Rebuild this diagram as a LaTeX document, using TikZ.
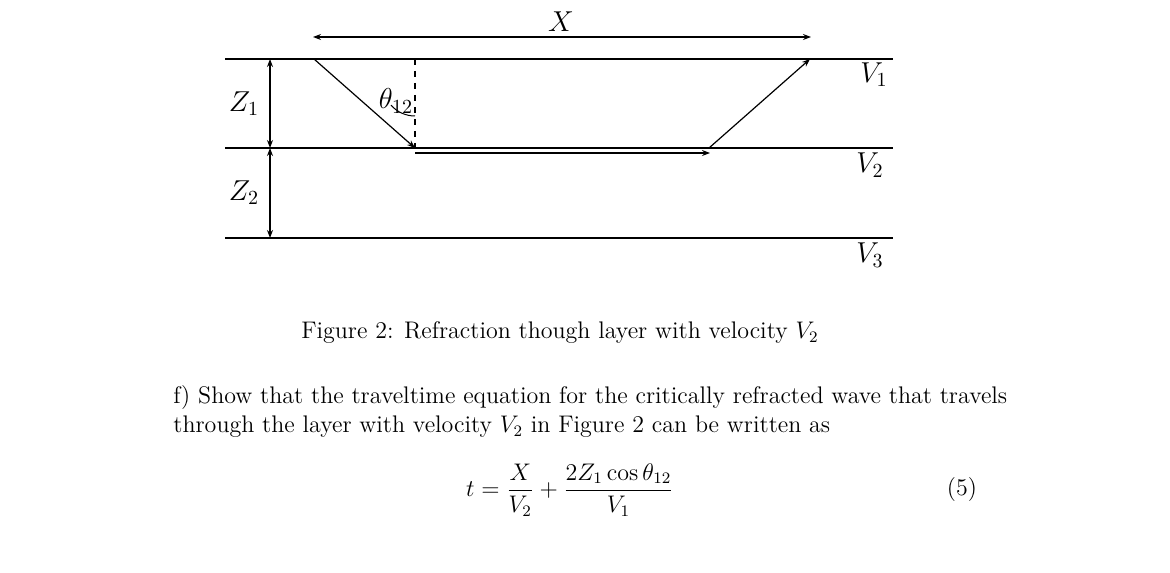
\documentclass[tikz,border=0pt]{standalone}
\usepackage{amsmath}
\usetikzlibrary{arrows.meta}
\begin{document}
\begin{tikzpicture}[x=0.5pt,y=-0.5pt,
  layer/.style={line width=0.8pt},
  ray/.style={line width=0.6pt,-{Stealth[length=4pt,width=3pt]}},
  dim/.style={line width=0.6pt,{Stealth[length=4pt,width=3pt]}-{Stealth[length=4pt,width=3pt]}},
  lbl/.style={inner sep=0pt}]
\useasboundingbox (0,0) rectangle (1170,572);
\coordinate (L1a) at (225,59); \coordinate (L1b) at (893,59);
\coordinate (L2a) at (225,148); \coordinate (L2b) at (893,148);
\coordinate (L3a) at (225,238); \coordinate (L3b) at (893,238);
\draw[layer] (L1a) -- (L1b); \draw[layer] (L2a) -- (L2b); \draw[layer] (L3a) -- (L3b);
\coordinate (z0) at (270,59); \coordinate (z1) at (270,148); \coordinate (z2) at (270,238);
\draw[dim] (z0) -- (z1); \draw[dim] (z1) -- (z2);
\coordinate (xa) at (313,37); \coordinate (xb) at (811,37);
\draw[dim] (xa) -- (xb);
\node[lbl] (X) at (561,22) {\Large $X$};
\coordinate (s) at (314,59); \coordinate (p) at (415,148); \coordinate (pt) at (415,59);
\coordinate (q) at (709,148); \coordinate (r) at (810,59);
\coordinate (ra) at (415,153); \coordinate (rb) at (710,153);
\draw[ray] (s) -- (p);
\draw[dashed,line width=0.6pt] (pt) -- (p);
\draw[ray] (ra) -- (rb);
\draw[ray] (q) -- (r);
\draw[line width=0.5pt] ([shift={(-90:32)}]p) arc[start angle=-90,end angle=-138.6,radius=16pt];
\node[lbl] (th) at (396,101) {\Large $\theta_{12}$};
\node[lbl] (Z1) at (244,104) {\Large $Z_1$};
\node[lbl] (Z2) at (244,193) {\Large $Z_2$};
\node[lbl] (V1) at (874,75) {\Large $V_1$};
\node[lbl] (V2) at (870,165) {\Large $V_2$};
\node[lbl] (V3) at (870,255) {\Large $V_3$};
\node[lbl] (cap) at (560,333) {\large Figure 2: Refraction though layer with velocity $V_2$};
\node[lbl,anchor=west] (f1) at (173,398) {\large f)\ Show that the traveltime equation for the critically refracted wave that travels};
\node[lbl,anchor=west] (f2) at (173,427) {\large through the layer with velocity $V_2$ in Figure 2 can be written as};
\node[lbl] (eq) at (570,490) {\large $\displaystyle t=\frac{X}{V_2}+\frac{2Z_1\cos\theta_{12}}{V_1}$};
\node[lbl] (n5) at (962,490) {\large (5)};
\end{tikzpicture}
\end{document}
